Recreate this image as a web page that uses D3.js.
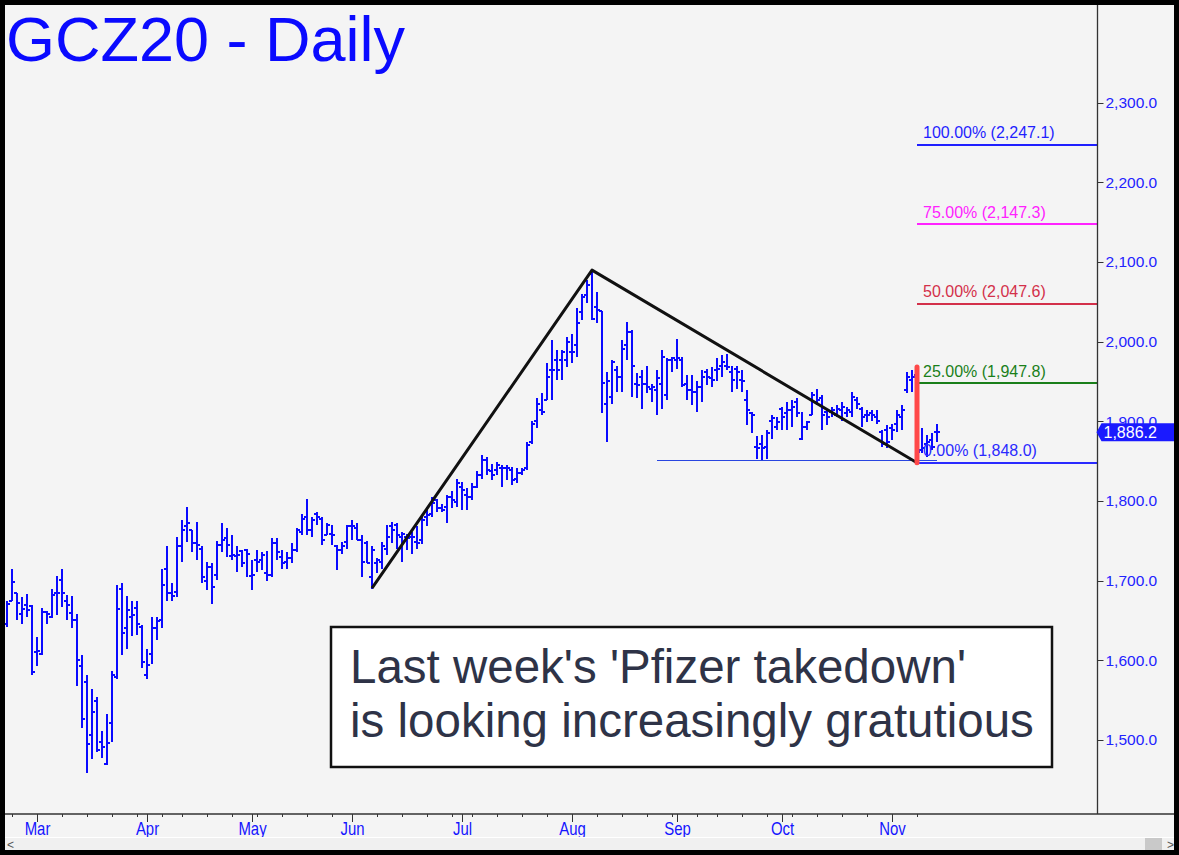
<!DOCTYPE html>
<html>
<head>
<meta charset="utf-8">
<script src="https://cdn.jsdelivr.net/npm/d3@7"></script>
<style>
  html, body { margin: 0; padding: 0; background: #000; }
  svg { display: block; font-family: "Liberation Sans", Arial, sans-serif; }
</style>
</head>
<body>
<svg id="chart" width="1179" height="855"></svg>
<script>
// trading calendar (GCZ20 daily bars, Feb 21 - Nov 13 2020)
const firstDay = "2020-02-21";
const lastDay = "2020-11-13";
const holidays = ["2020-04-10", "2020-05-25", "2020-07-03", "2020-09-07"];

// OHLC, one value per trading day
const opens = [1646,1674,1684,1658,1669,1668,1611,1608,1661,1654,1685,1701,1675,1659,1650,1593,1573,1506,1549,1498,
  1470,1521,1579,1689,1640,1654,1666,1642,1581,1608,1640,1651,1715,1684,1686,1743,1768,1763,1747,1740,
  1699,1717,1707,1745,1753,1731,1731,1737,1738,1706,1726,1726,1709,1707,1747,1730,1724,1729,1738,1761,
  1780,1763,1784,1778,1757,1759,1743,1738,1749,1768,1766,1751,1747,1705,1722,1724,1740,1768,1770,1755,
  1755,1755,1749,1751,1780,1784,1801,1791,1793,1805,1799,1818,1807,1805,1818,1832,1851,1837,1839,1841,
  1841,1839,1828,1835,1841,1874,1901,1914,1927,1964,1977,1977,1977,1987,1996,2037,2058,2085,2044,2039,
  1922,1931,1964,1956,1996,2012,1947,1956,1947,1941,1939,1947,1933,1977,1977,1977,1947,1939,1937,1943,
  1962,1954,1964,1970,1970,1962,1966,1952,1927,1910,1868,1872,1868,1901,1893,1916,1910,1914,1924,1878,
  1893,1908,1924,1929,1912,1912,1908,1914,1910,1912,1927,1916,1908,1910,1906,1887,1889,1891,1897,1906,
  1939,1952,1958,1864,1872,1876,1887];
const highs = [1674,1714,1684,1679,1683,1669,1629,1666,1662,1689,1706,1714,1682,1681,1658,1607,1582,1564,1554,1511,
  1533,1587,1695,1697,1681,1674,1674,1644,1614,1654,1654,1715,1744,1697,1755,1776,1793,1763,1773,1743,
  1724,1722,1750,1772,1766,1757,1743,1739,1740,1726,1738,1736,1737,1753,1753,1738,1736,1747,1766,1784,
  1802,1780,1786,1780,1772,1770,1745,1749,1770,1776,1772,1757,1750,1743,1728,1749,1770,1774,1772,1761,
  1759,1761,1768,1781,1793,1805,1803,1796,1807,1812,1827,1824,1816,1822,1837,1858,1855,1847,1849,1845,
  1845,1843,1841,1841,1874,1901,1929,1935,1973,2002,1989,1989,2006,2010,2042,2060,2077,2090,2062,2039,
  1962,1977,1970,2002,2025,2014,1960,1964,1970,1947,1964,1989,1979,1981,2003,1981,1958,1958,1950,1964,
  1966,1968,1979,1983,1985,1970,1970,1964,1939,1912,1881,1883,1889,1908,1906,1918,1924,1927,1929,1912,
  1901,1937,1941,1933,1916,1918,1920,1924,1918,1937,1931,1918,1914,1914,1914,1889,1895,1897,1914,1920,
  1962,1964,1966,1891,1883,1885,1897];
const lows = [1642,1674,1651,1646,1655,1582,1593,1607,1646,1653,1657,1667,1651,1641,1568,1515,1459,1476,1485,1477,
  1468,1498,1577,1607,1614,1631,1632,1590,1577,1595,1625,1640,1674,1674,1679,1724,1749,1736,1726,1697,
  1688,1671,1701,1736,1730,1726,1711,1717,1705,1688,1711,1713,1699,1705,1726,1715,1714,1722,1736,1757,
  1757,1755,1770,1745,1757,1745,1713,1734,1740,1751,1751,1705,1722,1690,1709,1715,1732,1747,1740,1724,
  1738,1734,1740,1746,1768,1780,1786,1786,1772,1791,1793,1789,1789,1801,1816,1828,1832,1826,1832,1818,
  1826,1820,1822,1832,1839,1872,1891,1908,1927,1927,1952,1952,1968,1973,1981,2027,2048,2027,2023,1910,
  1874,1922,1937,1937,1977,1931,1929,1916,1935,1924,1908,1916,1927,1962,1966,1943,1927,1920,1912,1924,
  1945,1943,1950,1956,1964,1937,1941,1937,1895,1885,1853,1851,1853,1878,1889,1889,1889,1893,1906,1876,
  1889,1908,1920,1889,1895,1906,1906,1901,1906,1906,1916,1893,1899,1901,1897,1868,1866,1876,1887,1889,
  1935,1937,1850,1860,1855,1864,1874];
const closes = [1671,1698,1672,1664,1663,1585,1612,1661,1658,1682,1684,1685,1670,1651,1600,1526,1495,1535,1488,1491,
  1496,1582,1664,1634,1663,1657,1645,1598,1594,1640,1649,1695,1685,1681,1743,1763,1772,1747,1745,1705,
  1717,1692,1745,1751,1745,1732,1732,1722,1734,1707,1724,1732,1707,1747,1736,1722,1728,1738,1763,1778,
  1763,1776,1780,1751,1770,1757,1738,1743,1768,1768,1751,1724,1722,1738,1726,1743,1755,1763,1757,1759,
  1753,1755,1747,1776,1782,1797,1791,1789,1805,1801,1822,1814,1805,1818,1832,1851,1839,1832,1845,1841,
  1841,1826,1835,1839,1870,1897,1922,1912,1956,1964,1964,1987,2000,1987,2023,2056,2071,2029,2040,1948,
  1950,1975,1956,1991,2012,1970,1945,1947,1943,1943,1954,1981,1977,1979,1979,1945,1939,1937,1943,1956,
  1956,1952,1966,1975,1968,1952,1962,1950,1914,1908,1866,1866,1885,1904,1899,1906,1914,1918,1910,1893,
  1899,1933,1927,1908,1906,1914,1916,1918,1914,1931,1922,1906,1908,1908,1901,1872,1874,1889,1908,1914,
  1956,1956,1862,1866,1874,1868,1886];

const yTicks = [1500, 1600, 1700, 1800, 1900, 2000, 2100, 2200, 2300];
const lastPrice = 1886.2;

// drawings on the chart: [date, price]
const swingLine = [["2020-06-05", 1690.7], ["2020-08-07", 2089.7], ["2020-11-09", 1848.0]];
const supportLine = [["2020-08-26", 1852], ["2020-11-13", 1852]];
const pfizerBar = [["2020-11-09", 1848.0], ["2020-11-09", 1968]];
const fibStart = "2020-11-09";
const fibPct = [0, 25, 50, 75, 100];
const fibPrices = [1848.0, 1947.8, 2047.6, 2147.3, 2247.1];
const fibColors = ["#2a2aff", "#1a7f1a", "#d3304a", "#ff22ff", "#1f1fff"];

const noteLines = ["Last week's 'Pfizer takedown'", "is looking increasingly gratutious"];

// ---------------------------------------------------------------
const W = 1179, H = 855;
const plot = {left: 5, top: 5, right: 1097.5, bottom: 814};
const parse = d3.timeParse("%Y-%m-%d");
const fmtDay = d3.timeFormat("%Y-%m-%d");

const days = d3.timeDay.range(parse(firstDay), d3.timeDay.offset(parse(lastDay), 1))
  .filter(d => d.getDay() !== 0 && d.getDay() !== 6 && !holidays.includes(fmtDay(d)));
const keys = days.map(fmtDay);

const bars = keys.map((k, i) => ({date: days[i], key: k, o: opens[i], h: highs[i], l: lows[i], c: closes[i]}));

const x = d3.scalePoint().domain(keys).range([7, 7 + 5 * (keys.length - 1)]);
const y = d3.scaleLinear().domain([1500, 2300]).range([740, 102.6]);
const yr = v => Math.round(y(v));

const svg = d3.select("#chart");

svg.append("rect").attr("width", W).attr("height", H).attr("fill", "#000");
svg.append("rect").attr("x", 5).attr("y", 5).attr("width", W - 10).attr("height", H - 10).attr("fill", "#f4f4f4");

svg.append("defs").append("clipPath").attr("id", "plotClip")
  .append("rect")
  .attr("x", plot.left).attr("y", plot.top)
  .attr("width", plot.right - plot.left).attr("height", plot.bottom - plot.top);

const g = svg.append("g").attr("clip-path", "url(#plotClip)");

// title
svg.append("text")
  .attr("x", 6).attr("y", 61)
  .attr("font-size", 63)
  .attr("fill", "#0a0aff")
  .text("GCZ20 - Daily");

// fib projection lines
const fibX0 = x(fibStart);
fibPrices.forEach((p, i) => {
  g.append("line")
    .attr("x1", fibX0).attr("x2", plot.right)
    .attr("y1", yr(p)).attr("y2", yr(p))
    .attr("stroke", fibColors[i]).attr("stroke-width", 2)
    .attr("shape-rendering", "crispEdges");
});

// support line
g.append("line")
  .attr("x1", x(supportLine[0][0])).attr("x2", x(supportLine[1][0]))
  .attr("y1", yr(supportLine[0][1]) + 0.5).attr("y2", yr(supportLine[1][1]) + 0.5)
  .attr("stroke", "#2845e0").attr("stroke-width", 1);

// OHLC bars
const barG = g.append("g")
  .attr("stroke", "#0a0aff").attr("stroke-width", 2)
  .attr("shape-rendering", "crispEdges");
barG.selectAll("line.hl").data(bars).join("line")
  .attr("x1", d => x(d.key)).attr("x2", d => x(d.key))
  .attr("y1", d => yr(d.h)).attr("y2", d => yr(d.l));
barG.selectAll("line.o").data(bars).join("line")
  .attr("x1", d => x(d.key) - 3).attr("x2", d => x(d.key))
  .attr("y1", d => yr(d.o)).attr("y2", d => yr(d.o));
barG.selectAll("line.c").data(bars).join("line")
  .attr("x1", d => x(d.key)).attr("x2", d => x(d.key) + 3)
  .attr("y1", d => yr(d.c)).attr("y2", d => yr(d.c));

// fib labels (drawn over bars, like the original)
fibPrices.forEach((p, i) => {
  g.append("text")
    .attr("x", fibX0 + 6).attr("y", y(p) - 6.5)
    .attr("font-size", 16)
    .attr("fill", fibColors[i])
    .text(`${fibPct[i].toFixed(2)}% (${d3.format(",.1f")(p)})`);
});

// swing lines
g.append("path")
  .attr("d", d3.line().x(d => x(d[0])).y(d => y(d[1]))(swingLine))
  .attr("fill", "none")
  .attr("stroke", "#111")
  .attr("stroke-width", 3)
  .attr("stroke-linejoin", "round");

// red marker on the takedown day
g.append("line")
  .attr("x1", x(pfizerBar[0][0])).attr("x2", x(pfizerBar[1][0]))
  .attr("y1", y(pfizerBar[0][1])).attr("y2", y(pfizerBar[1][1]))
  .attr("stroke", "#ff4848").attr("stroke-width", 5).attr("stroke-linecap", "round");

// note box
const note = svg.append("g");
note.append("rect")
  .attr("x", 331).attr("y", 627).attr("width", 721).attr("height", 140)
  .attr("fill", "#fff").attr("stroke", "#111").attr("stroke-width", 2.5);
noteLines.forEach((t, i) => {
  note.append("text")
    .attr("x", 350).attr("y", 683 + i * 54)
    .attr("font-size", 47.5)
    .attr("fill", "#2e3347")
    .text(t);
});

// right axis
svg.append("line")
  .attr("x1", plot.right).attr("x2", plot.right).attr("y1", plot.top).attr("y2", plot.bottom)
  .attr("stroke", "#333").attr("stroke-width", 1.3);
const yAxis = svg.append("g");
yAxis.selectAll("line").data(yTicks).join("line")
  .attr("x1", plot.right).attr("x2", plot.right + 6)
  .attr("y1", d => yr(d) + 0.5).attr("y2", d => yr(d) + 0.5)
  .attr("stroke", "#333").attr("stroke-width", 1);
yAxis.selectAll("text").data(yTicks).join("text")
  .attr("x", plot.right + 8).attr("y", d => y(d))
  .attr("dy", "0.35em")
  .attr("font-size", 15.5)
  .attr("fill", "#2222ff")
  .text(d => d3.format(",.1f")(d));

// last price marker
const py = y(lastPrice);
svg.append("path")
  .attr("d", `M${plot.right - 1},${py} L${plot.right + 4},${py - 9} L1174,${py - 9} L1174,${py + 9} L${plot.right + 4},${py + 9} Z`)
  .attr("fill", "#1a1aff");
svg.append("text")
  .attr("x", plot.right + 6).attr("y", py)
  .attr("dy", "0.36em")
  .attr("font-size", 16)
  .attr("fill", "#fff")
  .text(d3.format(",.1f")(lastPrice));

// bottom time axis
svg.append("line")
  .attr("x1", 5).attr("x2", 1174).attr("y1", plot.bottom).attr("y2", plot.bottom)
  .attr("stroke", "#333").attr("stroke-width", 1.3);

const weekStarts = bars.filter((d, i) => i > 0 && +d3.timeMonday.floor(d.date) !== +d3.timeMonday.floor(bars[i - 1].date));
const monthStarts = bars.filter((d, i) => i > 0 && d.date.getMonth() !== bars[i - 1].date.getMonth());

const xAxis = svg.append("g").attr("stroke", "#333").attr("stroke-width", 1).attr("shape-rendering", "crispEdges");
xAxis.selectAll("line.w").data(weekStarts).join("line")
  .attr("x1", d => x(d.key) + 0.5).attr("x2", d => x(d.key) + 0.5)
  .attr("y1", plot.bottom).attr("y2", plot.bottom + 3);
xAxis.selectAll("line.m").data(monthStarts).join("line")
  .attr("x1", d => x(d.key) + 0.5).attr("x2", d => x(d.key) + 0.5)
  .attr("y1", plot.bottom).attr("y2", plot.bottom + 8);

svg.append("g").selectAll("text").data(monthStarts).join("text")
  .attr("transform", d => `translate(${x(d.key) + 0.5},835) scale(0.83,1)`)
  .attr("text-anchor", "middle")
  .attr("font-size", 18)
  .attr("fill", "#1414ff")
  .text(d => d3.timeFormat("%b")(d.date));

// scrollbar strip
svg.append("line")
  .attr("x1", 5).attr("x2", 1174).attr("y1", 837.5).attr("y2", 837.5)
  .attr("stroke", "#fff").attr("stroke-width", 1.2);
svg.append("rect").attr("x", 5).attr("y", 838).attr("width", 1169).attr("height", 12).attr("fill", "#f0f0f0");
svg.append("rect").attr("x", 1145).attr("y", 838).attr("width", 17).attr("height", 12).attr("fill", "#c9c9c9");
svg.append("text").attr("x", 7).attr("y", 849).attr("font-size", 12).attr("fill", "#555").text("<");
svg.append("text").attr("x", 1167).attr("y", 849).attr("font-size", 12).attr("fill", "#555").text(">");
</script>
</body>
</html>
